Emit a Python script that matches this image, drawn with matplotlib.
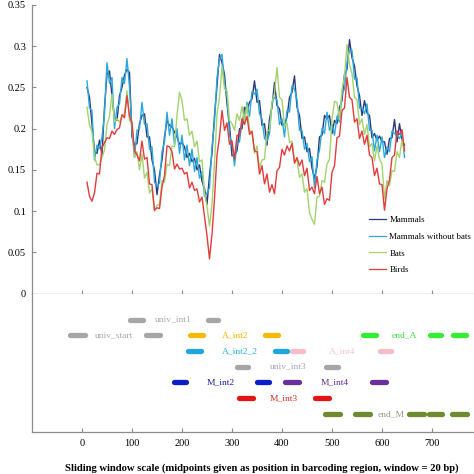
import matplotlib
matplotlib.use("Agg")
import matplotlib.pyplot as plt
import numpy as np

plt.rcParams['font.family'] = ['Liberation Serif', 'DejaVu Serif']

# window midpoints (bp)
x_pos = list(range(10, 650, 5))

mammals = [
    .25, .238, .205, .172, .17, .186, .168, .226, .266, .27,
    .24, .212, .21, .24, .25, .265, .272, .268, .19, .18,
    .182, .206, .216, .218, .19, .19, .162, .15, .12, .144,
    .162, .19, .21, .204, .202, .196, .19, .181, .183, .178,
    .165, .17, .16, .164, .15, .156, .136, .128, .108, .144,
    .17, .216, .252, .29, .28, .266, .23, .204, .167, .168,
    .173, .2, .2, .226, .222, .232, .236, .258, .232, .234,
    .204, .206, .18, .212, .226, .256, .228, .224, .204, .206,
    .214, .238, .244, .264, .226, .216, .188, .19, .172, .176,
    .152, .14, .154, .19, .192, .216, .212, .216, .194, .21,
    .206, .226, .234, .266, .272, .308, .286, .276, .252, .24,
    .216, .234, .219, .216, .189, .194, .186, .191, .184, .184,
    .169, .188, .189, .211, .184, .206, .186, .18]

mammals_wo_bats = [
    .258, .225, .222, .162, .18, .176, .19, .218, .28, .255,
    .262, .2, .226, .23, .262, .255, .285, .25, .198, .165,
    .198, .2, .232, .205, .206, .175, .178, .135, .13, .134,
    .172, .184, .22, .192, .212, .18, .2, .17, .192, .162,
    .18, .155, .175, .148, .165, .14, .148, .118, .122, .128,
    .178, .208, .262, .285, .29, .255, .24, .192, .182, .155,
    .182, .184, .208, .208, .232, .215, .245, .242, .248, .218,
    .212, .188, .185, .194, .232, .238, .235, .205, .212, .19,
    .222, .22, .252, .248, .235, .198, .198, .175, .182, .16,
    .166, .128, .162, .174, .2, .194, .22, .198, .205, .192,
    .215, .208, .242, .248, .28, .295, .295, .26, .262, .225,
    .225, .218, .23, .198, .198, .173, .192, .172, .19, .165,
    .177, .172, .197, .194, .192, .188, .195, .165]

bats = [
    .226, .204, .196, .165, .156, .156, .165, .174, .205, .215,
    .242, .208, .212, .208, .215, .218, .246, .21, .207, .165,
    .172, .15, .169, .14, .147, .122, .127, .1, .107, .108,
    .137, .135, .157, .155, .179, .178, .216, .244, .234, .21,
    .212, .192, .197, .178, .185, .16, .162, .122, .106, .082,
    .108, .158, .218, .238, .276, .248, .246, .21, .206, .198,
    .218, .21, .227, .208, .229, .198, .195, .17, .179, .152,
    .162, .163, .197, .198, .232, .243, .274, .238, .235, .203,
    .207, .183, .185, .161, .162, .141, .145, .123, .127, .098,
    .09, .084, .117, .118, .137, .135, .157, .163, .212, .233,
    .232, .211, .247, .263, .302, .278, .267, .238, .235, .205,
    .212, .193, .205, .178, .182, .161, .179, .163, .157, .115,
    .137, .131, .149, .148, .172, .165, .187, .172]

birds = [
    .135, .118, .112, .122, .146, .145, .177, .183, .189, .188,
    .197, .193, .199, .201, .217, .213, .24, .215, .207, .173,
    .168, .161, .185, .163, .165, .133, .132, .101, .104, .103,
    .129, .143, .179, .178, .172, .151, .157, .151, .152, .145,
    .147, .128, .135, .125, .127, .111, .117, .093, .07, .042,
    .072, .115, .168, .19, .222, .198, .207, .181, .185, .163,
    .192, .191, .212, .205, .215, .193, .197, .173, .172, .145,
    .155, .133, .145, .123, .132, .121, .149, .153, .175, .168,
    .179, .173, .182, .158, .165, .155, .162, .143, .152, .125,
    .129, .121, .142, .121, .129, .108, .115, .113, .147, .155,
    .189, .191, .222, .225, .262, .238, .235, .208, .212, .188,
    .197, .181, .192, .168, .165, .143, .152, .133, .132, .101,
    .127, .138, .165, .168, .197, .193, .199, .173]

series_names = ["Mammals", "Mammals without bats", "Bats", "Birds"]
series_colors = ["#2b3a7a", "#2aa8dc", "#a3d36e", "#e43c3c"]

# primer bars: (row, start, end, colour)
primer_bars = [
    (1, 95, 121, "#a6a6a6"), (1, 251, 273, "#a6a6a6"),
    (2, -25, 5, "#a6a6a6"), (2, 127, 155, "#a6a6a6"),
    (2, 215, 241, "#f5b90a"), (2, 365, 391, "#f5b90a"),
    (2, 563, 589, "#33ee33"), (2, 697, 719, "#33ee33"), (2, 743, 769, "#33ee33"),
    (3, 211, 237, "#1ea6e0"), (3, 385, 409, "#1ea6e0"),
    (3, 419, 441, "#f6bcc8"), (3, 597, 619, "#f6bcc8"),
    (4, 311, 333, "#a6a6a6"), (4, 487, 513, "#a6a6a6"),
    (5, 183, 207, "#0c1ec8"), (5, 349, 373, "#0c1ec8"),
    (5, 405, 433, "#6b2f9e"), (5, 581, 609, "#6b2f9e"),
    (6, 315, 343, "#e41414"), (6, 465, 493, "#e41414"),
    (7, 485, 517, "#6f8a30"), (7, 547, 577, "#6f8a30"),
    (7, 655, 685, "#6f8a30"), (7, 695, 721, "#6f8a30"), (7, 741, 771, "#6f8a30"),
]

# primer labels: (row, centre, text, colour)
primer_labels = [
    (1, 182, "univ_int1", "#aaaaaa"),
    (2, 64, "univ_start", "#aaaaaa"),
    (2, 306, "A_int2", "#f0b400"),
    (2, 644, "end_A", "#3ddc3d"),
    (3, 316, "A_int2_2", "#28aee0"),
    (3, 520, "A_int4", "#f2c4ce"),
    (4, 412, "univ_int3", "#a4a4b8"),
    (5, 278, "M_int2", "#1c1ca0"),
    (5, 506, "M_int4", "#5e2d8c"),
    (6, 404, "M_int3", "#e02828"),
    (7, 618, "end_M", "#929a80"),
]

x_ticks = [0, 100, 200, 300, 400, 500, 600, 700]
y_ticks = [0, 0.05, 0.1, 0.15, 0.2, 0.25, 0.3, 0.35]
y_tick_labels = ["0", "0.05", "0.1", "0.15", "0.2", "0.25", "0.3", "0.35"]
x_label = "Sliding window scale (midpoints given as position in barcoding region, window = 20 bp)"

W = 474
fig = plt.figure(figsize=(4.74, 4.74), dpi=100)
left = 31.7 / W
width = 1.0 - left
ax = fig.add_axes([left, (W - 293.5) / W, width, (293.5 - 5) / W])
axb = fig.add_axes([left, (W - 432) / W, width, (432 - 293.5) / W], sharex=ax)

xmin, xmax = -100.6, 784
spine_col = "#8c8c8c"
fs = 7.5

for name, vals, col in zip(series_names, [mammals, mammals_wo_bats, bats, birds], series_colors):
    ax.plot(x_pos, vals, color=col, lw=1.0, label=name)

ax.set_xlim(xmin, xmax)
ax.set_ylim(0, 0.35)
ax.set_yticks(y_ticks)
ax.set_yticklabels(y_tick_labels, fontsize=fs)
ax.set_xticks(x_ticks)
ax.tick_params(axis='x', which='both', direction='in', length=3, color=spine_col, labelbottom=False)
ax.tick_params(axis='y', direction='in', length=3, color=spine_col, pad=4)
for s in ["top", "right"]:
    ax.spines[s].set_visible(False)
for s in ["left", "bottom"]:
    ax.spines[s].set_color(spine_col)
    ax.spines[s].set_linewidth(0.9)

leg = ax.legend(loc="upper left", bbox_to_anchor=(369 / W, 1 - 216 / W),
                bbox_transform=fig.transFigure, frameon=False, fontsize=6.4,
                handlelength=1.9, handletextpad=0.4, labelspacing=0.95, borderpad=0,
                borderaxespad=0)
for line in leg.get_lines():
    line.set_linewidth(0.9)

# lower panel: primer positions
for row, s, e, col in primer_bars:
    axb.plot([s, e], [row, row], color=col, lw=3.8, solid_capstyle='round')
for row, c, txt, col in primer_labels:
    axb.text(c, row, txt, color=col, fontsize=6.8, ha='center', va='center')

axb.set_ylim(8.15, -0.66)
axb.set_yticks([])
axb.set_xticks(x_ticks)
axb.set_xticklabels([str(t) for t in x_ticks], fontsize=fs)
axb.tick_params(axis='x', direction='in', length=3, color=spine_col, pad=5)
for s in ["top", "right"]:
    axb.spines[s].set_visible(False)
for s in ["left", "bottom"]:
    axb.spines[s].set_color(spine_col)
    axb.spines[s].set_linewidth(0.9)

fig.text(262 / W, 1 - 468 / W, x_label, fontsize=7.7, fontweight='bold',
         ha='center', va='center')

fig.savefig("out.png", dpi=100)
